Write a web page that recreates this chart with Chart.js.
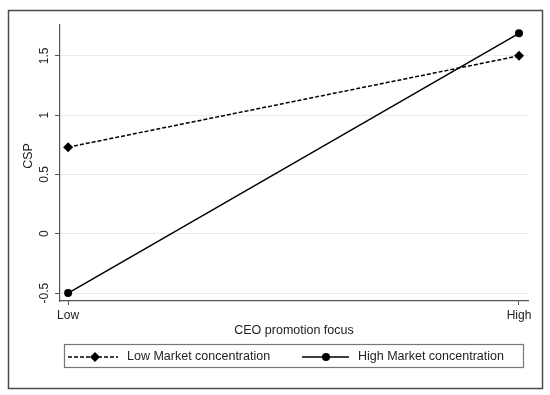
<!DOCTYPE html>
<html><head><meta charset="utf-8">
<script src="https://cdn.jsdelivr.net/npm/chart.js@4.4.0/dist/chart.umd.min.js"></script>
<style>html,body{margin:0;padding:0;background:#fff}#wrap{width:550px;height:395px;position:relative}</style>
</head><body><div id="wrap"><canvas id="c" width="550" height="395"></canvas></div>
<script>
const categories = ['Low', 'High'];
const xPositions = [0, 1];
const lowMarketCSP = [0.73, 1.50];
const highMarketCSP = [-0.50, 1.69];
const seriesLabels = ['Low Market concentration', 'High Market concentration'];
const yTicks = [-0.5, 0, 0.5, 1, 1.5];
const xTitle = 'CEO promotion focus';
const yTitle = 'CSP';

const FONT_FAMILY = '"Liberation Sans", Arial, Helvetica, sans-serif';
const TXT = '#222';
const AX = '#555';

function pts(vals) { return vals.map((v, i) => ({x: xPositions[i], y: v})); }

function drawMarker(ctx, style, x, y, r) {
  ctx.beginPath();
  if (style === 'rectRot') {
    ctx.moveTo(x - r, y); ctx.lineTo(x, y - r); ctx.lineTo(x + r, y); ctx.lineTo(x, y + r); ctx.closePath();
  } else {
    ctx.arc(x, y, r, 0, Math.PI * 2);
  }
  ctx.fillStyle = '#000';
  ctx.fill();
}

const framePlugin = {
  id: 'frame',
  beforeDraw(chart) {
    const ctx = chart.ctx;
    ctx.save();
    ctx.fillStyle = '#fff';
    ctx.fillRect(0, 0, chart.width, chart.height);
    ctx.strokeStyle = '#4a4a4a';
    ctx.lineWidth = 1.5;
    ctx.strokeRect(8.5, 10.5, 534, 378);
    ctx.restore();
  }
};

const yTitlePlugin = {
  id: 'yTitle',
  afterDraw(chart) {
    const ctx = chart.ctx;
    ctx.save();
    ctx.translate(29, 156);
    ctx.rotate(-Math.PI / 2);
    ctx.fillStyle = TXT;
    ctx.font = '12.5px ' + FONT_FAMILY;
    ctx.textAlign = 'center';
    ctx.textBaseline = 'middle';
    ctx.fillText(yTitle, 0, 0);
    ctx.restore();
  }
};

const legendPlugin = {
  id: 'boxLegend',
  afterDraw(chart) {
    const ctx = chart.ctx;
    ctx.save();
    ctx.strokeStyle = '#777';
    ctx.lineWidth = 1.2;
    ctx.strokeRect(64.5, 344.5, 459, 23);
    const y = 357;
    const items = [
      {x0: 68, x1: 118, mx: 95, tx: 127},
      {x0: 302, x1: 349, mx: 326, tx: 358}
    ];
    chart.data.datasets.forEach((ds, i) => {
      const it = items[i];
      ctx.strokeStyle = '#000';
      ctx.lineWidth = 1.3;
      ctx.setLineDash(ds.borderDash || []);
      ctx.beginPath(); ctx.moveTo(it.x0, y); ctx.lineTo(it.x1, y); ctx.stroke();
      ctx.setLineDash([]);
      drawMarker(ctx, ds.pointStyle, it.mx, y, ds.pointRadius);
      ctx.fillStyle = TXT;
      ctx.font = '12.5px ' + FONT_FAMILY;
      ctx.textAlign = 'left';
      ctx.textBaseline = 'middle';
      ctx.fillText(ds.label, it.tx, y);
    });
    ctx.restore();
  }
};

new Chart(document.getElementById('c'), {
  type: 'line',
  data: {
    datasets: [
      {label: seriesLabels[0], data: pts(lowMarketCSP), borderColor: '#000', backgroundColor: '#000',
       borderWidth: 1.5, borderDash: [4, 2], pointStyle: 'rectRot', pointRadius: 5, pointBackgroundColor: '#000',
       pointBorderWidth: 0, tension: 0, clip: false},
      {label: seriesLabels[1], data: pts(highMarketCSP), borderColor: '#000', backgroundColor: '#000',
       borderWidth: 1.5, pointStyle: 'circle', pointRadius: 4, pointBackgroundColor: '#000',
       pointBorderWidth: 0, tension: 0, clip: false}
    ]
  },
  options: {
    responsive: false,
    animation: false,
    devicePixelRatio: 1,
    layout: {padding: {left: 10, top: 25, right: 22, bottom: 54}},
    plugins: {legend: {display: false}, tooltip: {enabled: false}},
    scales: {
      x: {
        type: 'linear', min: -0.018, max: 1.02,
        afterBuildTicks: s => { s.ticks = xPositions.map(v => ({value: v})); },
        ticks: {callback: (v, i) => categories[i], maxRotation: 0, minRotation: 0, padding: 3,
                color: TXT, font: {family: FONT_FAMILY, size: 12}},
        grid: {drawOnChartArea: false, tickColor: AX, tickLength: 4},
        border: {color: AX, width: 1.2},
        title: {display: true, text: xTitle, color: TXT, font: {family: FONT_FAMILY, size: 12.5},
                padding: {top: 0, bottom: 2.5}},
        afterFit: s => { s.height = 40; s.paddingLeft = 0; s.paddingRight = 0; }
      },
      y: {
        type: 'linear', min: -0.567, max: 1.76,
        afterBuildTicks: s => { s.ticks = yTicks.map(v => ({value: v})); },
        ticks: {minRotation: 90, maxRotation: 90, crossAlign: 'center', padding: 0,
                color: TXT, font: {family: FONT_FAMILY, size: 12}, callback: v => String(v)},
        grid: {color: '#e2eef0', lineWidth: 1, tickColor: AX, tickLength: 5},
        border: {color: AX, width: 1.2},
        title: {display: false},
        afterFit: s => { s.width = 50; s.paddingTop = 0; s.paddingBottom = 0; }
      }
    }
  },
  plugins: [framePlugin, legendPlugin, yTitlePlugin]
});
</script>
</body></html>
